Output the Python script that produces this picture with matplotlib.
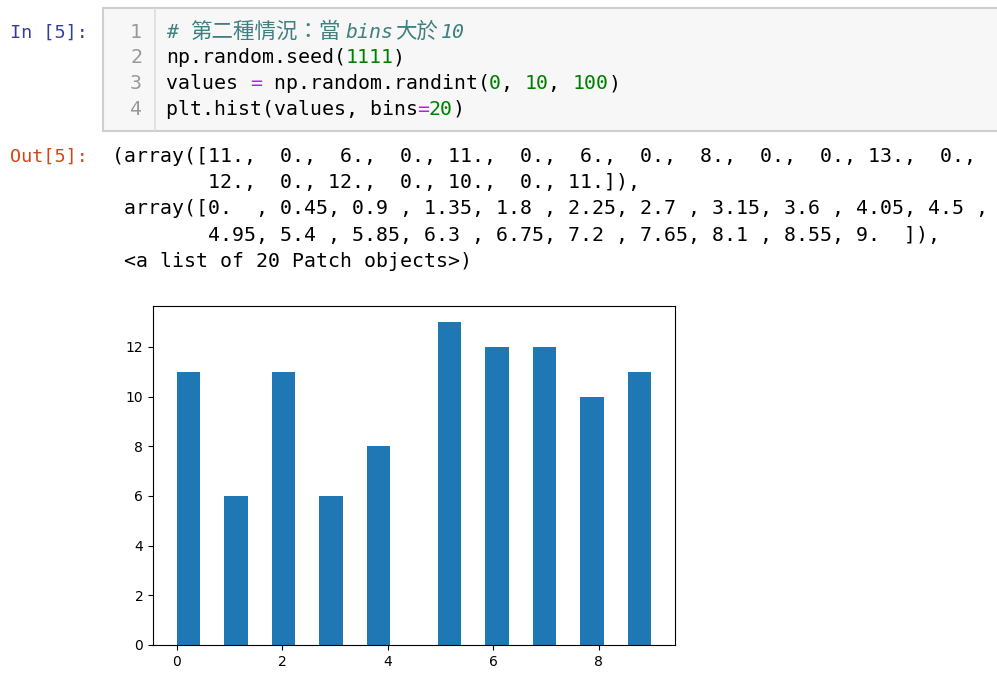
import numpy as np
import matplotlib
matplotlib.use("Agg")
import matplotlib.pyplot as plt
from matplotlib.patches import Rectangle

# ---- data ----
bin_counts = [11., 0., 6., 0., 11., 0., 6., 0., 8., 0., 0., 13., 0.,
              12., 0., 12., 0., 10., 0., 11.]
bin_edges = [0., 0.45, 0.9, 1.35, 1.8, 2.25, 2.7, 3.15, 3.6, 4.05, 4.5,
             4.95, 5.4, 5.85, 6.3, 6.75, 7.2, 7.65, 8.1, 8.55, 9.]
x_ticks = [0, 2, 4, 6, 8]
y_ticks = [0, 2, 4, 6, 8, 10, 12]

code_comment = "# 第二種情況：當bins大於10"
out_lines = [
    "(array([11.,  0.,  6.,  0., 11.,  0.,  6.,  0.,  8.,  0.,  0., 13.,  0.,",
    "        12.,  0., 12.,  0., 10.,  0., 11.]),",
    " array([0.  , 0.45, 0.9 , 1.35, 1.8 , 2.25, 2.7 , 3.15, 3.6 , 4.05, 4.5 ,",
    "        4.95, 5.4 , 5.85, 6.3 , 6.75, 7.2 , 7.65, 8.1 , 8.55, 9.  ]),",
    " <a list of 20 Patch objects>)",
]

W, H = 997, 681
fig = plt.figure(figsize=(W / 100, H / 100), dpi=100)

# background axes in pixel coordinates
bg = fig.add_axes([0, 0, 1, 1])
bg.set_xlim(0, W)
bg.set_ylim(H, 0)
bg.axis("off")

MONO = ["DejaVu Sans Mono", "Noto Sans CJK TC"]
FS = 14.3
CW = 11.95  # char width in px
PFS = 13.3  # prompt font size

# code cell box
bg.add_patch(Rectangle((103, 8), 900, 123, facecolor="#f7f7f7",
                       edgecolor="#cfcfcf", linewidth=1.5))
bg.plot([155, 155], [9, 130], color="#dddddd", linewidth=1.2)

# prompts
bg.text(10, 37.5, "In [5]:", color="#303F9F", fontsize=PFS, family=MONO,
        va="baseline", ha="left")
bg.text(10, 161.7, "Out[5]:", color="#D84315", fontsize=PFS, family=MONO,
        va="baseline", ha="left")

# code lines
base0, step = 37.5, 25.8
for i in range(4):
    bg.text(142, base0 + i * step, str(i + 1), color="#999999", fontsize=FS,
            family=MONO, va="baseline", ha="right")

x0 = 166
# line 1: comment
bg.text(x0, base0, "# ", color="#408080", fontsize=FS, family=MONO,
        style="italic", va="baseline")
bg.text(190, base0, "第二種情況：當", color="#408080", fontsize=FS * 1.08,
        family=["Noto Sans CJK TC", "DejaVu Sans Mono"], va="baseline")
bg.text(345, base0, "bins", color="#408080", fontsize=FS, family=MONO,
        style="italic", va="baseline")
bg.text(395, base0, "大於", color="#408080", fontsize=FS * 1.08,
        family=["Noto Sans CJK TC", "DejaVu Sans Mono"], va="baseline")
bg.text(441, base0, "10", color="#408080", fontsize=FS, family=MONO,
        style="italic", va="baseline")

def seg_line(y, segs):
    n = 0
    for s, c in segs:
        bg.text(x0 + n * CW, y, s, color=c, fontsize=FS, family=MONO,
                va="baseline", ha="left")
        n += len(s)

K, G, P = "#000000", "#008000", "#AA22FF"
seg_line(base0 + step, [("np.random.seed(", K), ("1111", G), (")", K)])
seg_line(base0 + 2 * step, [("values ", K), ("=", P), (" np.random.randint(", K),
                            ("0", G), (", ", K), ("10", G), (", ", K),
                            ("100", G), (")", K)])
seg_line(base0 + 3 * step, [("plt.hist(values, bins", K), ("=", P),
                            ("20", G), (")", K)])

# output text
ob = [161.7, 188.0, 214.2, 240.5, 266.7]
for y, line in zip(ob, out_lines):
    bg.text(112, y, line, color="#000000", fontsize=FS, family=MONO,
            va="baseline", ha="left")

# histogram axes
ax = fig.add_axes([153 / W, 1 - 645 / H, (675 - 153) / W, (645 - 306) / H])
ax.hist(bin_edges[:-1], bins=bin_edges, weights=bin_counts, color="#1f77b4")
ax.set_xticks(x_ticks)
ax.set_yticks(y_ticks)
ax.tick_params(labelsize=10)

fig.savefig("out.png", dpi=100)
